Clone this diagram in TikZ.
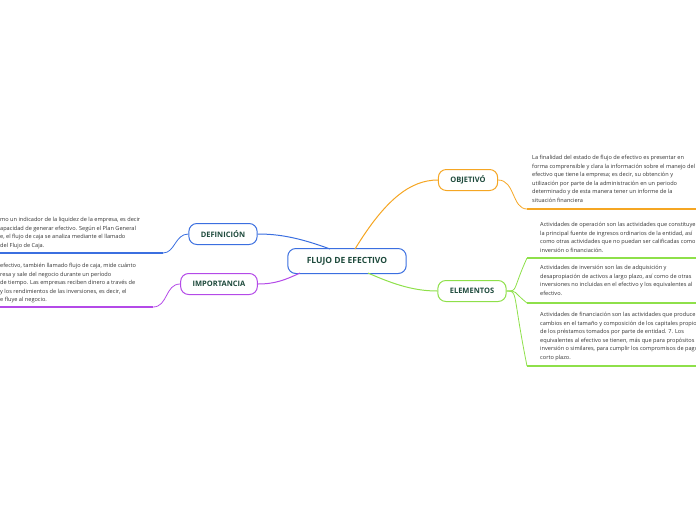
\documentclass[tikz,border=0pt]{standalone}
\usepackage{fontspec}
\setmainfont{Open Sans}
\definecolor{cblue}{HTML}{3B6FE0}
\definecolor{corange}{HTML}{F5A623}
\definecolor{cgreen}{HTML}{8EE04A}
\definecolor{cpurple}{HTML}{B44AE8}
\definecolor{ctext}{HTML}{1E4A3C}
\begin{document}
\begin{tikzpicture}[x=1pt,y=-1pt,
  topic/.style={draw=#1,line width=1pt,rounded corners=8pt,fill=white,text=ctext,font=\bfseries\fontsize{7.5}{9}\selectfont,minimum height=21pt,inner xsep=12pt},
  body/.style={anchor=north west,align=left,inner sep=0pt,text=black!80,font=\fontsize{5.6}{8.6}\selectfont},
  conn/.style={draw=#1,line width=1pt}]
\useasboundingbox (0,0) rectangle (696,520);
\node[topic=cblue,minimum height=25pt,inner xsep=19pt,font=\bfseries\fontsize{8.5}{10}\selectfont] (c) at (347,261) {FLUJO DE EFECTIVO};
\node[topic=corange] (obj) at (468,180) {OBJETIVÓ};
\node[topic=cgreen] (ele) at (472,291) {ELEMENTOS};
\node[topic=cblue] (def) at (223,234) {DEFINICIÓN};
\node[topic=cpurple] (imp) at (219,284) {IMPORTANCIA};
% center connectors
\draw[conn=corange] (355,249) .. controls (385,200) and (410,180) .. (obj.west);
\draw[conn=cgreen] (368,273) .. controls (395,285) and (415,291) .. (ele.west);
\draw[conn=cblue] (330,249) .. controls (300,238) and (280,234) .. (def.east);
\draw[conn=cpurple] (300,273) .. controls (285,280) and (275,284) .. (imp.east);
% objetivo text
\node[body] (tobj) at (532,155) {La finalidad del estado de flujo de efectivo es presentar en\\forma comprensible y clara la información sobre el manejo del\\efectivo que tiene la empresa; es decir, su obtención y\\utilización por parte de la administración en un periodo\\determinado y de esta manera tener un informe de la\\situación financiera};
\coordinate (uo) at (527,209);
\draw[conn=corange,line width=0.8pt] (obj.east) .. controls (515,180) and (512,209) .. (uo);
\draw[draw=corange,line width=1.6pt] (uo) -- (696,209);
% elementos
\node[body] (e1) at (540,222) {Actividades de operación son las actividades que constituyen\\la principal fuente de ingresos ordinarios de la entidad, así\\como otras actividades que no puedan ser calificadas como de\\inversión o financiación.};
\node[body] (e2) at (540,265) {Actividades de inversión son las de adquisición y\\desapropiación de activos a largo plazo, así como de otras\\inversiones no incluidas en el efectivo y los equivalentes al\\efectivo.};
\node[body] (e3) at (540,312) {Actividades de financiación son las actividades que producen\\cambios en el tamaño y composición de los capitales propios y\\de los préstamos tomados por parte de entidad. 7. Los\\equivalentes al efectivo se tienen, más que para propósitos de\\inversión o similares, para cumplir los compromisos de pago a\\corto plazo.};
\coordinate (u1) at (527,258);
\coordinate (u2) at (527,303);
\coordinate (u3) at (527,366);
\foreach \u in {u1,u2,u3}{
  \draw[conn=cgreen,line width=0.8pt] (ele.east) .. controls (518,291) and (512,291) .. (\u);
}
\draw[draw=cgreen,line width=1.6pt] (u1) -- (696,258);
\draw[draw=cgreen,line width=1.6pt] (u2) -- (696,303);
\draw[draw=cgreen,line width=1.6pt] (u3) -- (696,366);
% definicion
\node[body] (tdef) at (0,217) {mo un indicador de la liquidez de la empresa, es decir\\apacidad de generar efectivo. Según el Plan General\\e, el flujo de caja se analiza mediante el llamado\\del Flujo de Caja.};
\coordinate (ud) at (163,253);
\draw[conn=cblue,line width=0.8pt] (def.west) .. controls (175,234) and (175,253) .. (ud);
\draw[draw=cblue,line width=1.6pt] (ud) -- (0,253);
% importancia
\node[body] (timp) at (0,263) {efectivo, también llamado flujo de caja, mide cuánto\\resa y sale del negocio durante un período\\de tiempo. Las empresas reciben dinero a través de\\y los rendimientos de las inversiones, es decir, el\\e fluye al negocio.};
\coordinate (ui) at (153,307);
\draw[conn=cpurple,line width=0.8pt] (imp.west) .. controls (165,284) and (168,307) .. (ui);
\draw[draw=cpurple,line width=1.6pt] (ui) -- (0,307);
\end{tikzpicture}
\end{document}
